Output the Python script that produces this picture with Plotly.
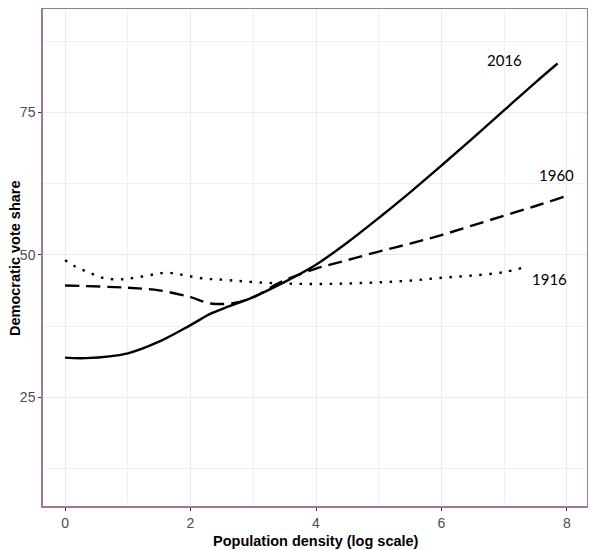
import plotly.graph_objects as go

# smoothed vote share curves
x_2016 = [0, 0.33, 1, 1.5, 2, 2.32, 2.52, 3, 3.47, 4, 4.5, 5, 5.5, 6, 6.5, 7, 7.5, 7.85]
y_2016 = [32.0, 31.9, 32.75, 34.8, 37.7, 39.7, 40.6, 42.6, 45.1, 48.3, 52.2, 56.5, 61.0, 65.7, 70.5, 75.4, 80.3, 83.6]

x_1960 = [0, 1, 1.5, 2, 2.32, 2.7, 3, 3.47, 4, 4.5, 5, 5.5, 6, 6.5, 7, 7.5, 7.95]
y_1960 = [44.65, 44.25, 43.8, 42.6, 41.5, 41.6, 42.6, 45.4, 47.6, 49.1, 50.6, 52.0, 53.5, 55.2, 56.9, 58.6, 60.2]

x_1916 = [0, 0.14, 0.3, 0.45, 0.6, 0.75, 0.95, 1.1, 1.3, 1.46, 1.62, 1.78, 1.92, 2.08,
          2.25, 2.4, 2.7, 3.05, 3.5, 4, 4.5, 5, 5.5, 6, 6.5, 7, 7.27]
y_1916 = [49.1, 48.1, 47.3, 46.6, 46.0, 45.75, 45.75, 46.0, 46.35, 46.7, 46.9, 46.7, 46.4, 46.1,
          45.8, 45.75, 45.5, 45.2, 45.0, 44.9, 45.0, 45.2, 45.5, 46.0, 46.4, 47.0, 47.7]

year_labels = ["2016", "1960", "1916"]
label_x = [7.01, 7.84, 7.72]
label_y = [84.2, 64.0, 45.75]

x_ticks = [0, 2, 4, 6, 8]
y_ticks = [25, 50, 75]

series = [
    (x_2016, y_2016, "solid"),
    (x_1960, y_1960, "14px,7px"),
    (x_1916, y_1916, "2.5px,7.5px"),
]

fig = go.Figure()
for (xs, ys, dash), name in zip(series, year_labels):
    fig.add_trace(go.Scatter(
        x=xs, y=ys, mode="lines", name=name,
        line=dict(color="black", width=2.4, dash=dash, shape="spline", smoothing=1.0),
        hoverinfo="skip",
    ))

for txt, lx, ly in zip(year_labels, label_x, label_y):
    fig.add_annotation(x=lx, y=ly, text=txt, showarrow=False,
                       font=dict(family="Lato, Open Sans, sans-serif", size=15, color="black"))

# page body adds an 8px offset, so the figure is sized to end at the window edge
title_font = dict(family="Liberation Sans, Arial, sans-serif", size=14.5, color="black")
fig.add_annotation(text="<b>Population density (log scale)</b>", xref="paper", yref="paper",
                   x=0.502, y=-0.0704, yanchor="middle", showarrow=False, font=title_font)
fig.add_annotation(text="<b>Democratic vote share</b>", xref="paper", yref="paper",
                   x=-0.0524, y=0.5, xanchor="center", yanchor="middle", textangle=-90,
                   showarrow=False, font=title_font)

border = "#9e76a0"
axis_common = dict(
    showline=True, mirror=True, linecolor=border, linewidth=1.5,
    showgrid=True, gridcolor="#ebebeb", gridwidth=1.1,
    ticks="outside", ticklen=3, tickcolor="#333333", tickwidth=1,
    tickfont=dict(family="Liberation Sans, Arial, sans-serif", size=14, color="#4d4d4d"),
    zeroline=False, automargin=False,
)

fig.update_layout(
    width=580, height=542,
    margin=dict(l=35, r=1, t=1, b=44),
    plot_bgcolor="white", paper_bgcolor="white",
    showlegend=False,
    xaxis=dict(
        range=[-0.351, 8.319], tickvals=x_ticks,
        minor=dict(tickvals=[1, 3, 5, 7], showgrid=True, gridcolor="#f0f0f0", gridwidth=1, ticks=""),
        **axis_common,
    ),
    yaxis=dict(
        range=[5.96, 93.16], tickvals=y_ticks,
        minor=dict(tickvals=[12.5, 37.5, 62.5, 87.5], showgrid=True, gridcolor="#f0f0f0", gridwidth=1, ticks=""),
        **axis_common,
    ),
)

fig.write_html("out.html")
